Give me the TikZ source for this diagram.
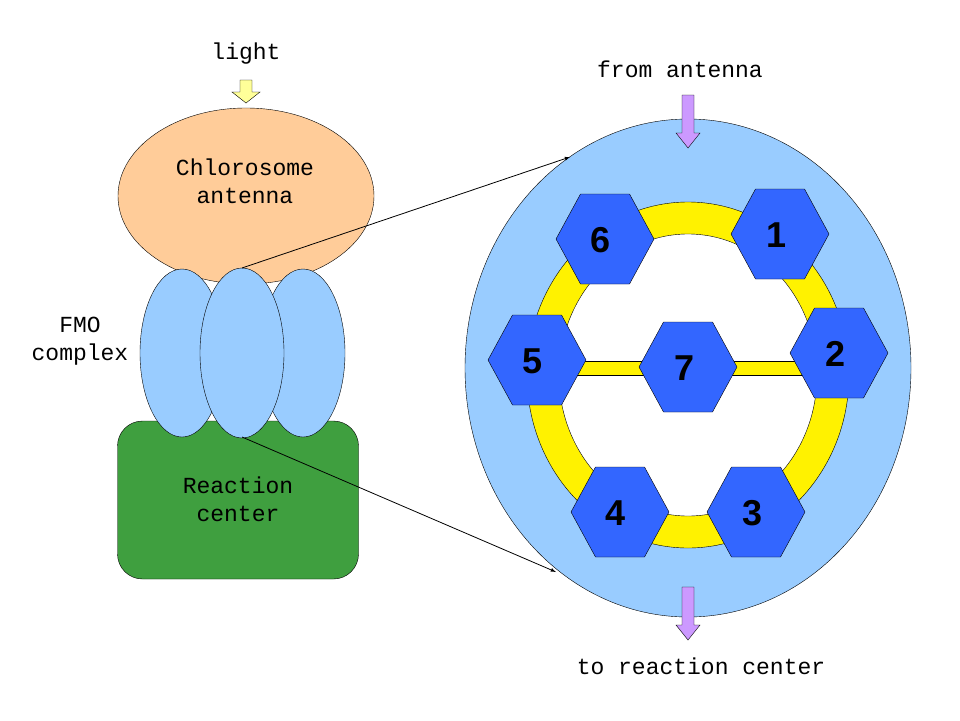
\documentclass[tikz,border=0pt]{standalone}
\usepackage{fontspec}
\setmainfont{Liberation Mono}
\newfontfamily\numfont{Liberation Sans}
\usetikzlibrary{shapes.geometric}
\begin{document}
\begin{tikzpicture}[x=1pt,y=-1pt,
  lbl/.style={font=\fontsize{23}{28}\selectfont,align=center,inner sep=0pt},
  num/.style={font=\numfont\bfseries\fontsize{36}{38}\selectfont},
  fmo/.style={draw=black,fill=fmoblue},
  hex/.style={draw=black,fill=hexblue},
  barrow/.style={draw=black,thin}]
\definecolor{fmoblue}{HTML}{99CCFF}
\definecolor{hexblue}{HTML}{3366FF}
\definecolor{peach}{HTML}{FFCC99}
\definecolor{rcgreen}{HTML}{3F9F3F}
\definecolor{lyellow}{HTML}{FFFF99}
\definecolor{lilac}{HTML}{CC99FF}
\useasboundingbox (0,0) rectangle (960,720);
% left side
\node[draw=black,fill=rcgreen,rounded corners=25pt,minimum width=241pt,minimum height=158pt] (rc) at (238,500) {};
\node[lbl] (rct) at (238,499) {Reaction\\center};
\node[draw=black,fill=peach,ellipse,minimum width=256pt,minimum height=176pt,inner sep=0pt] (chl) at (246,196) {};
\node[lbl] (chlt) at (245,181) {Chlorosome\\antenna};
\path[fmo] (182,353) ellipse [x radius=42,y radius=84];
\path[fmo] (303,353) ellipse [x radius=42,y radius=84];
\path[fmo] (242,353) ellipse [x radius=42,y radius=85];
\coordinate (ftop) at (242,268);
\coordinate (fbot) at (242,437);
\node[lbl] (fmot) at (80,341) {FMO\\complex};
\node[lbl] (light) at (246,54) {light};
\path[barrow,fill=lyellow] (240,80) -- (252,80) -- (252,92) -- (260,92) -- (246,103) -- (232,92) -- (240,92) -- cycle;
% right side
\path[draw=black,fill=fmoblue] (688,368) ellipse [x radius=223,y radius=249];
\path[draw=black,fill=yellow] (688,375) ellipse [x radius=161,y radius=173];
\path[draw=black,fill=white] (688,375) ellipse [x radius=129,y radius=141];
\path[draw=black,fill=yellow] (556,361) rectangle (822,375);
\foreach \n/\x/\y in {1/780/234,6/605/239,5/537/360,7/688/367,2/839/353,4/620/512,3/756/512}{
  \path[hex] (\x+49,\y) -- (\x+24.5,\y+45) -- (\x-24.5,\y+45) -- (\x-49,\y) -- (\x-24.5,\y-45) -- (\x+24.5,\y-45) -- cycle;
  \node[num] (h\n) at (\x-4,\y+1) {\n};
}
\path[barrow,fill=lilac] (682,95) -- (694,95) -- (694,133) -- (700,133) -- (688,148) -- (676,133) -- (682,133) -- cycle;
\path[barrow,fill=lilac] (682,587) -- (694,587) -- (694,625) -- (700,625) -- (688,640) -- (676,625) -- (682,625) -- cycle;
\node[lbl] (from) at (680,69) {from antenna};
\node[lbl] (to) at (701,666) {to reaction center};
\coordinate (zt) at (570,157);
\coordinate (zb) at (556,572);
\draw[-latex,line width=0.8pt] (ftop) -- (zt);
\draw[-latex,line width=0.8pt] (fbot) -- (zb);
\end{tikzpicture}
\end{document}
